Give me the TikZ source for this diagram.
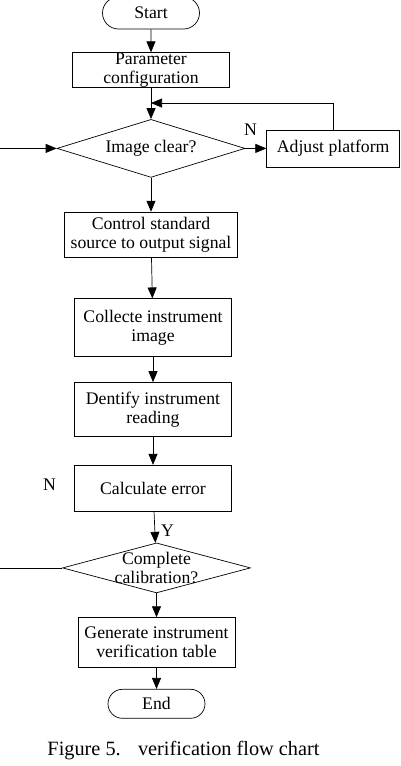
\documentclass[tikz,border=0pt]{standalone}
\usepackage{fontspec}
\setmainfont{Liberation Serif}
\usetikzlibrary{positioning,arrows.meta,shapes.misc}
\usepgflibrary{shapes.geometric}
\tikzset{%
terminal/.style={draw,rounded rectangle,minimum width=99pt,minimum height=29pt,inner sep=1pt},
process/.style={draw,rectangle,align=center,minimum width=157pt,inner xsep=2pt,inner ysep=0pt},
decision/.style={draw,diamond,aspect=3.3,minimum width=188pt,inner sep=0pt},
flow/.style={-{Triangle[length=11pt,width=9pt]}},
yn/.style={inner sep=1pt},
caption/.style={font=\fontsize{20.3}{22}\selectfont}
}

\begin{document}
\begin{tikzpicture}[font=\fontsize{17.7}{19}\selectfont,line width=0.7pt]

    \useasboundingbox (0pt,0pt) rectangle (400pt,-766pt);

    \node[terminal,minimum height=32pt] (start) at (151pt,-13pt) {Start};
    \node[process,minimum height=35pt] (param) [below=23pt of start] {Parameter\\configuration};
    \node[decision,minimum height=58pt] (img) [below=31pt of param] {Image clear?};
    \node[process,minimum width=133pt,minimum height=37pt] (adjust) [right=21pt of img] {Adjust platform};

    \node[process,minimum width=173pt,minimum height=45pt] (ctrl) [below=34pt of img] {Control standard\\source to output signal};
    \node[process,minimum height=58pt] (coll) [below=41pt of ctrl,xshift=2pt] {Collecte instrument\\image};
    \node[process,minimum height=54pt] (dent) [below=25pt of coll] {Dentify instrument\\reading};
    \node[process,minimum height=46pt] (calc) [below=28pt of dent] {Calculate error};
    \node[yn] (nleft) [left=17pt of calc,yshift=4pt] {N};

    \node[decision,minimum height=50pt,label={[align=center]center:{Complete\\calibration?}}] (done) [below=31pt of calc,xshift=3.5pt] {};
    \node[process,minimum height=50pt] (gen) [below=24pt of done] {Generate instrument\\verification table};
    \node[terminal] (end) [below=21pt of gen] {End};

    \node[caption] (cap) [below=19pt of end,xshift=27pt] {Figure 5.\hspace{0.85em}verification flow chart};

    \coordinate[below=15pt of param] (fb);
    \coordinate[left=57pt of img.west] (inleft);
    \coordinate[left=63pt of done.west] (outleft);

    \path[flow] (start) edge (param)
                (param) edge (img)
                (inleft) edge (img.west)
                (img.east) edge node[yn,pos=0.25,above=12pt]{N} (adjust.west)
                (img) edge (ctrl)
                (ctrl) edge (coll)
                (coll) edge (dent)
                (dent) edge (calc)
                (calc) edge node[yn,pos=0.6,right=5pt]{Y} (done)
                (done) edge (gen)
                (gen) edge (end);

    \draw[flow] (adjust.north) |- (fb);
    \draw (done.west) -- (outleft);

\end{tikzpicture}
\end{document}
